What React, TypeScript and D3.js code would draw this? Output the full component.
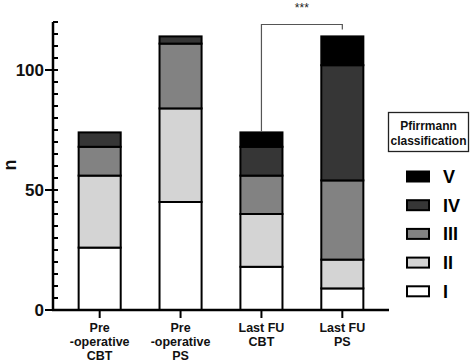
import * as d3 from 'd3';
import React from 'react';

const groups = ['Pre-op CBT', 'Pre-op PS', 'Last FU CBT', 'Last FU PS'];
const groupLabels = [
  ['Pre', '-operative', 'CBT'],
  ['Pre', '-operative', 'PS'],
  ['Last FU', 'CBT'],
  ['Last FU', 'PS'],
];
const grades = ['I', 'II', 'III', 'IV', 'V'];
const gradeI = [26, 45, 18, 9];
const gradeII = [30, 39, 22, 12];
const gradeIII = [12, 27, 16, 33];
const gradeIV = [6, 3, 12, 48];
const gradeV = [0, 0, 6, 12];
const gradeColors = ['#ffffff', '#d4d4d4', '#828282', '#363636', '#000000'];
const yTicks = [0, 50, 100];

export default function App() {
  const W = 474;
  const H = 363;
  const font = 'Liberation Sans, Arial, sans-serif';

  const x = d3.scaleBand<string>().domain(groups).range([56, 386]).paddingInner(0.48).paddingOuter(0.28);
  const y = d3.scaleLinear().domain([0, 120]).range([310, 22]);

  const rows = groups.map((g, i) => {
    const r: any = { group: g };
    r.I = gradeI[i];
    r.II = gradeII[i];
    r.III = gradeIII[i];
    r.IV = gradeIV[i];
    r.V = gradeV[i];
    return r;
  });
  const series = d3.stack<any>().keys(grades)(rows);
  const minor = d3.range(0, 121, 5);

  const totals = rows.map((r) => grades.reduce((s, k) => s + r[k], 0));
  const bx3 = x(groups[2])! + x.bandwidth() / 2;
  const bx4 = x(groups[3])! + x.bandwidth() / 2;
  const brY = y(120) + 2.5;

  return (
    <svg width={W} height={H} style={{ position: 'absolute', left: 0, top: 0 }}>
      <rect width={W} height={H} fill="#fff" />
      {series.map((s, si) =>
        s.map((d, i) =>
          d[1] - d[0] > 0 ? (
            <rect
              key={`${si}-${i}`}
              x={x(groups[i])}
              y={y(d[1])}
              width={x.bandwidth()}
              height={y(d[0]) - y(d[1])}
              fill={gradeColors[si]}
              stroke="#000"
              strokeWidth={2}
            />
          ) : null
        )
      )}
      {/* y axis */}
      <line x1={53} x2={53} y1={y(0)} y2={y(120)} stroke="#000" strokeWidth={2.5} />
      {minor.map((v) => (
        <line key={v} x1={53} x2={yTicks.includes(v) ? 45 : 58} y1={y(v)} y2={y(v)} stroke="#000" strokeWidth={2} />
      ))}
      {yTicks.map((v) => (
        <line key={'m' + v} x1={45} x2={58} y1={y(v)} y2={y(v)} stroke="#000" strokeWidth={2} />
      ))}
      {yTicks.map((v) => (
        <text key={'t' + v} x={44} y={y(v) + 6} textAnchor="end" fontFamily={font} fontWeight="bold" fontSize={17} fill="#111">
          {v}
        </text>
      ))}
      <text transform="translate(16,165) rotate(-90)" textAnchor="middle" fontFamily={font} fontWeight="bold" fontSize={18} fill="#111">
        n
      </text>
      {/* x axis */}
      <line x1={52} x2={389} y1={y(0)} y2={y(0)} stroke="#000" strokeWidth={2.5} />
      {groups.map((g, i) => {
        const cx = x(g)! + x.bandwidth() / 2;
        return (
          <g key={g}>
            <line x1={cx} x2={cx} y1={y(0)} y2={y(0) + 8} stroke="#000" strokeWidth={2} />
            {groupLabels[i].map((t, j) => (
              <text key={j} x={cx} y={332 + j * 14} textAnchor="middle" fontFamily={font} fontWeight="bold" fontSize={12.5} fill="#111">
                {t}
              </text>
            ))}
          </g>
        );
      })}
      {/* significance bracket */}
      <path
        d={`M${bx3},${y(totals[2]) - 1}V${brY}H${bx4}V${y(totals[3]) - 7}`}
        fill="none"
        stroke="#555"
        strokeWidth={1.2}
      />
      <text x={(bx3 + bx4) / 2} y={12} textAnchor="middle" fontFamily={font} fontSize={12} fill="#222">
        ***
      </text>
      {/* legend */}
      <rect x={388.5} y={112.5} width={80} height={39} fill="#fff" stroke="#222" strokeWidth={1.3} />
      <text x={428.5} y={130} textAnchor="middle" fontFamily={font} fontWeight="bold" fontSize={12} fill="#111">
        Pfirrmann
      </text>
      <text x={428.5} y={145} textAnchor="middle" fontFamily={font} fontWeight="bold" fontSize={12} fill="#111">
        classification
      </text>
      {grades
        .slice()
        .reverse()
        .map((g, j) => {
          const si = grades.length - 1 - j;
          const cy = 176.5 + j * 28.7;
          return (
            <g key={g}>
              <rect x={407} y={cy - 5} width={22} height={10} fill={gradeColors[si]} stroke="#000" strokeWidth={2} />
              <text x={443} y={cy + 6.5} fontFamily={font} fontWeight="bold" fontSize={18} fill="#000">
                {g}
              </text>
            </g>
          );
        })}
    </svg>
  );
}
